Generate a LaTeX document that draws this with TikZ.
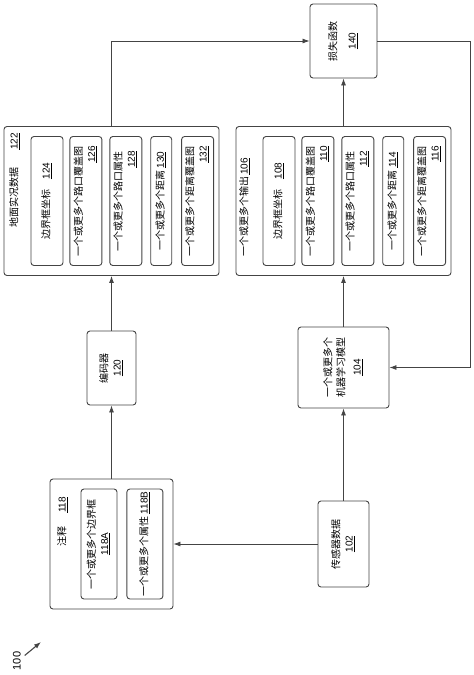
\documentclass[tikz,border=0pt]{standalone}
\usepackage{fontspec}
\setmainfont{Noto Sans CJK SC}
\newfontfamily\numfont{Liberation Sans}
\usepackage{graphicx}
\usetikzlibrary{positioning,arrows.meta}

\definecolor{linegray}{HTML}{444444}
\newcommand{\refno}[1]{\underline{\numfont #1}}
\newcommand{\uptext}[2][c]{\rotatebox{90}{\begin{tabular}{@{}#1@{}}#2\end{tabular}}}

\begin{document}
\begin{tikzpicture}[
x=1pt, y=-1pt,
font=\fontsize{10}{13}\selectfont,
box/.style={draw=linegray, line width=0.9pt, rounded corners=3pt, inner sep=1pt, text=black},
field/.style={box, minimum height=129pt, minimum width=32pt},
narrowfield/.style={field, minimum width=21pt},
title/.style={inner sep=0pt, text=black},
arrow/.style={-{Latex[length=7pt,width=5pt]}, draw=linegray, line width=0.8pt},
]
\useasboundingbox (0,0) rectangle (474,675);

\node[box, minimum width=67pt, minimum height=74pt] (loss) at (343.5,41) {\uptext{损失函数\\[6pt]\refno{140}}};

% ground truth
\node[box, minimum width=215pt, minimum height=149pt] (gt) at (111.5,201) {};
\node[title, anchor=north] (gttitle) at (15,133) {\uptext{地面实况数据\hspace{18pt}\refno{122}}};
\node[field, right=27pt of gt.west] (n124) {\uptext{边界框坐标\hspace{10pt}\refno{124}}};
\node[field, right=6pt of n124] (n126) {\uptext[r]{一个或更多个路口覆盖图\\\refno{126}}};
\node[field, right=7pt of n126] (n128) {\uptext[r]{一个或更多个路口属性\\\refno{128}\hspace{8pt}}};
\node[narrowfield, right=8pt of n128] (n130) {\uptext{一个或更多个距离 \refno{130}}};
\node[field, right=9pt of n130] (n132) {\uptext[r]{一个或更多个距离覆盖图\\\refno{132}\hspace{22pt}}};

% outputs
\node[box, minimum width=215pt, minimum height=149pt] (out) at (343.5,201) {};
\node[title, anchor=south] (outtitle) at (245,257) {\uptext{一个或更多个输出 \refno{106}}};
\node[field, right=27pt of out.west] (n108) {\uptext{边界框坐标\hspace{10pt}\refno{108}}};
\node[field, right=6pt of n108] (n110) {\uptext[r]{一个或更多个路口覆盖图\\\refno{110}}};
\node[field, right=7pt of n110] (n112) {\uptext[r]{一个或更多个路口属性\\\refno{112}\hspace{6pt}}};
\node[narrowfield, right=8pt of n112] (n114) {\uptext{一个或更多个距离 \refno{114}}};
\node[field, right=9pt of n114] (n116) {\uptext[r]{一个或更多个距离覆盖图\\\refno{116}\hspace{22pt}}};

% annotations
\node[box, minimum width=123pt, minimum height=130pt] (ann) at (111.5,544) {};
\node[title] (anntitle) at (63,522) {\uptext{注释\hspace{14pt}\refno{118}}};
\node[box, minimum width=36pt, minimum height=110pt] (n118a) at (99,544) {\uptext{一个或更多个边界框\\\refno{118A}}};
\node[box, minimum width=36pt, minimum height=110pt, right=9pt of n118a] (n118b) {\uptext{一个或更多个属性 \refno{118B}}};

\node[box, minimum width=49pt, minimum height=74pt] (enc) at (111.5,368) {\uptext{编码器\\\refno{120}}};
\node[box, minimum width=91pt, minimum height=81pt] (ml) at (343.5,367.5) {\uptext{一个或更多个\\机器学习模型\\[3pt]\refno{104}}};
\node[box, minimum width=51pt, minimum height=86pt] (sensor) at (343.5,544) {\uptext{传感器数据\\\refno{102}}};

\node[title, font=\fontsize{11}{13}\numfont] (lbl) at (18,661) {\uptext{100}};
\coordinate (lbltip) at (41,642);
\coordinate (fb) at (470,367.5);

\draw[arrow] (gt.north) |- (loss.west);
\draw[arrow] (out.north) -- (loss.south);
\draw[arrow] (loss.east) -| (fb) -- (ml.east);
\draw[arrow] (ml.north) -- (out.south);
\draw[arrow] (sensor.north) -- (ml.south);
\draw[arrow] (sensor.west) -- (ann.east);
\draw[arrow] (ann.north) -- (enc.south);
\draw[arrow] (enc.north) -- (gt.south);
\draw[arrow, line width=1.1pt] (lbl) -- (lbltip);

\end{tikzpicture}
\end{document}
